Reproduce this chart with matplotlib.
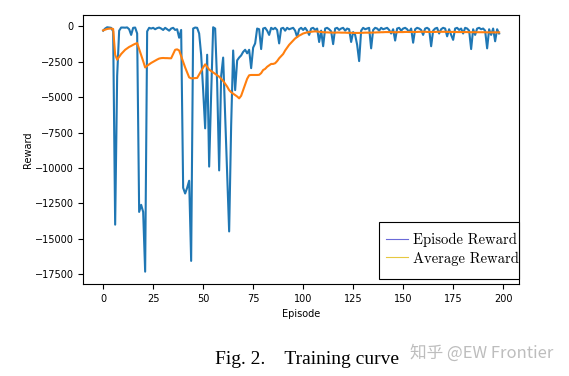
import numpy as np
import matplotlib
matplotlib.use("Agg")
import matplotlib.pyplot as plt
from matplotlib.lines import Line2D
from matplotlib.patches import Rectangle

# episode rewards (episodes 0..198)
episode_reward = [
    -300, -150, -60, -80, -100, -350, -14000, -3500, -300, -80,
    -80, -90, -70, -200, -600, -100, -80, -500, -13100, -12600,
    -13100, -17320, -350, -100, -150, -100, -200, -120, -80, -150,
    -250, -100, -200, -300, -150, -100, -250, -200, -800, -250,
    -11400, -11800, -11400, -10900, -16560, -150, -80, -100, -500, -2000,
    -4500, -7200, -2000, -9900, -4800, -60, -150, -4000, -10170, -3500,
    -2200, -6300, -10400, -14480, -7000, -1700, -4500, -2400, -2200, -2050,
    -1800, -1650, -1900, -1650, -2950, -1500, -1200, -150, -200, -1600,
    -150, -100, -300, -600, -100, -200, -100, -250, -1200, -150,
    -100, -300, -100, -200, -150, -100, -300, -750, -200, -100,
    -250, -100, -300, -600, -150, -100, -250, -150, -1100, -300,
    -1400, -150, -100, -200, -350, -1250, -150, -100, -250, -150,
    -100, -300, -150, -200, -1100, -400, -600, -1300, -2450, -300,
    -100, -200, -150, -100, -1550, -250, -100, -150, -300, -100,
    -200, -150, -100, -250, -500, -200, -1000, -150, -100, -300,
    -150, -100, -200, -400, -150, -1150, -200, -100, -150, -250,
    -600, -150, -100, -200, -1400, -300, -150, -100, -500, -200,
    -100, -150, -700, -200, -600, -950, -150, -100, -250, -150,
    -500, -100, -150, -300, -1600, -200, -600, -150, -100, -200,
    -150, -300, -1550, -200, -600, -150, -1050, -200, -500,
]

# average reward curve
average_reward = [
    -280, -230, -180, -160, -150, -180, -2000, -2350, -2150, -1950,
    -1800, -1650, -1550, -1450, -1380, -1300, -1230, -1180, -1600, -2000,
    -2450, -2900, -2780, -2680, -2580, -2500, -2420, -2340, -2270, -2240,
    -2230, -2240, -2240, -2250, -2250, -1950, -1650, -1620, -1700, -2100,
    -2500, -2900, -3250, -3600, -3670, -3660, -3650, -3640, -3400, -3150,
    -2900, -2680, -2850, -3050, -3150, -3250, -3350, -3450, -3550, -3700,
    -3850, -4050, -4250, -4500, -4650, -4750, -4850, -4950, -5080, -4900,
    -4500, -4100, -3700, -3450, -3430, -3430, -3430, -3430, -3420, -3300,
    -3080, -3000, -2850, -2750, -2650, -2650, -2600, -2450, -2250, -2100,
    -1950, -1700, -1500, -1300, -1150, -1000, -850, -750, -650, -580,
    -500, -460, -420, -400, -380, -360, -350, -360, -380, -390,
    -410, -420, -420, -430, -430, -440, -440, -430, -430, -440,
    -440, -440, -450, -450, -450, -460, -460, -460, -460, -450,
    -450, -440, -440, -440, -440, -430, -430, -420, -420, -410,
    -410, -400, -400, -400, -400, -410, -410, -410, -400, -400,
    -400, -390, -390, -390, -390, -390, -390, -390, -380, -380,
    -380, -380, -390, -390, -390, -390, -390, -380, -380, -380,
    -380, -380, -390, -390, -390, -390, -390, -400, -400, -400,
    -400, -400, -400, -410, -410, -410, -410, -410, -410, -410,
    -410, -410, -420, -420, -420, -420, -420, -420, -420,
]

episodes = np.arange(len(episode_reward))

fig = plt.figure(figsize=(5.69, 3.76), dpi=100)
ax = fig.add_axes([0.1465, 0.245, 0.7655, 0.715])

ax.plot(episodes, episode_reward, color="#1f77b4", lw=1.5)
ax.plot(episodes, average_reward, color="#ff7f0e", lw=1.5)

ax.set_xlabel("Episode", fontsize=7)
ax.set_ylabel("Reward", fontsize=7, labelpad=1.5)
ax.tick_params(labelsize=7)
ax.set_xticks([0, 25, 50, 75, 100, 125, 150, 175, 200])
ax.set_yticks([0, -2500, -5000, -7500, -10000, -12500, -15000, -17500])

# legend looks pasted in from the paper: serif text, thin pale handles,
# box with more room above/below than at the sides -> frame drawn by hand
ax.add_patch(Rectangle((0.679, 0.019), 0.321, 0.213, transform=ax.transAxes,
                       facecolor="white", edgecolor="black", lw=0.8,
                       zorder=4, clip_on=False))
handles = [
    Line2D([], [], color="#6a6ad8", lw=0.8),
    Line2D([], [], color="#e6c840", lw=0.8),
]
leg = ax.legend(handles, ["Episode Reward", "Average Reward"],
                loc="center right", bbox_to_anchor=(0.999, 0.129),
                borderaxespad=0.0, borderpad=0.0, frameon=False,
                prop={"family": "cmr10", "size": 10.6},
                handlelength=1.45, handletextpad=0.33, labelspacing=0.3)
leg.set_zorder(5)

fig.text(0.5387, 0.033, "Fig. 2.    Training curve", ha="center",
         fontsize=14, family="Liberation Serif")
fig.text(0.72, 0.048, "知乎 @EW Frontier", ha="left", color="#bdbdbd",
         fontsize=12, family=["Noto Sans CJK SC", "DejaVu Sans"])

fig.savefig("out.png", dpi=100)
